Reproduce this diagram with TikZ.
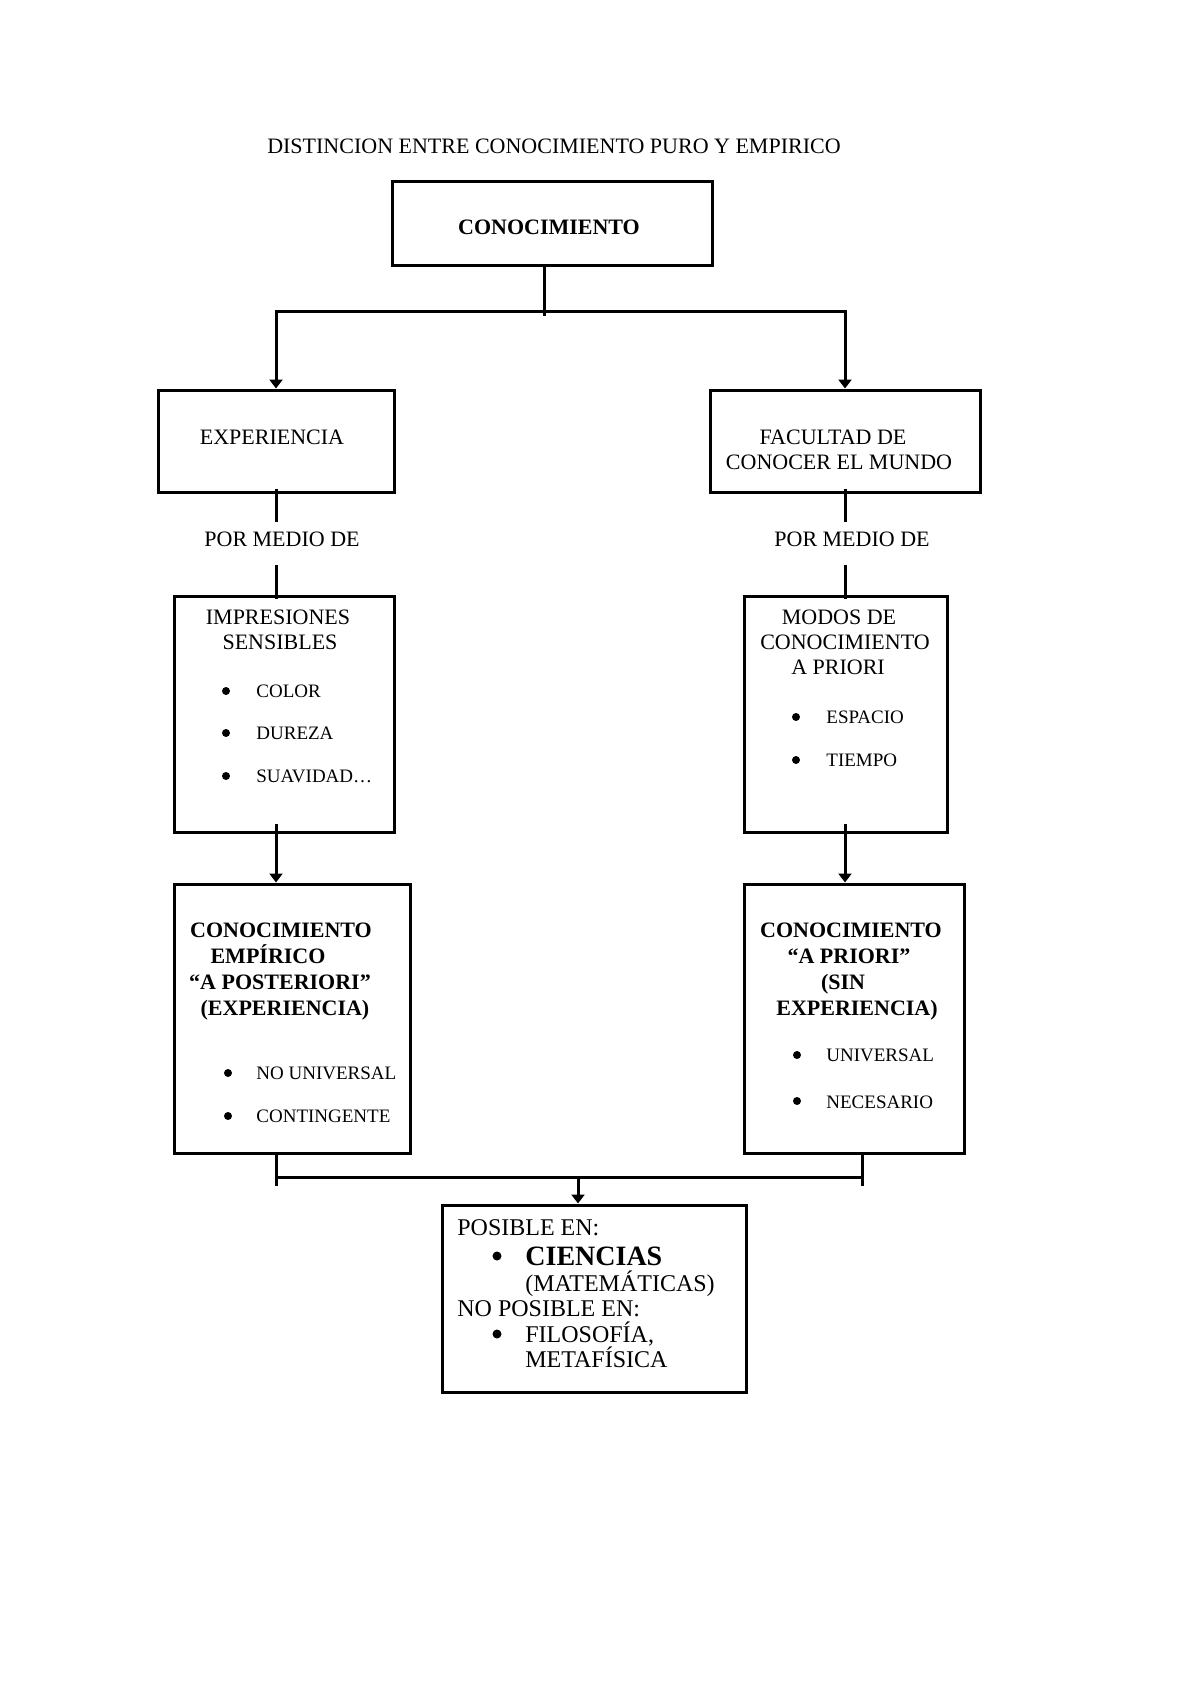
\documentclass[tikz,border=0pt]{standalone}
\usepackage{fontspec}
\setmainfont{Liberation Serif}
\usetikzlibrary{arrows.meta}

\begin{document}
\begin{tikzpicture}[x=0.5pt,y=0.5pt,yscale=-1,xscale=1,
  box/.style={draw,line width=1.5pt,inner sep=0pt},
  link/.style={line width=1.5pt},
  arrow/.style={line width=1.5pt,-{Triangle[width=6.5pt,length=4.5pt]}},
  txt/.style={font=\fontsize{11}{13}\selectfont,inner sep=0pt,anchor=base},
  bold/.style={font=\fontsize{11}{13}\selectfont\bfseries,inner sep=0pt,anchor=base},
  item/.style={font=\fontsize{9.5}{11}\selectfont,inner sep=0pt,anchor=base west},
  dot/.style={circle,fill,inner sep=0pt,minimum size=4pt},
  big/.style={font=\fontsize{12}{14}\selectfont,inner sep=0pt,anchor=base west}]
\useasboundingbox (0,0) rectangle (1200,1698);

% Title
\node [txt] (title) at (554,153) {DISTINCION ENTRE CONOCIMIENTO PURO Y EMPIRICO};

% Boxes
\node [box,minimum width=160pt,minimum height=42pt] (conoc) at (552,223) {};
\node [box,minimum width=118pt,minimum height=51pt] (exp) at (276,441) {};
\node [box,minimum width=135pt,minimum height=51pt] (fac) at (845,441) {};
\node [box,minimum width=110pt,minimum height=118pt] (imp) at (284,714) {};
\node [box,minimum width=101.5pt,minimum height=118pt] (modos) at (845.5,714) {};
\node [box,minimum width=118pt,minimum height=134.5pt] (emp) at (292,1018.5) {};
\node [box,minimum width=110pt,minimum height=134.5pt] (pri) at (854,1018.5) {};
\node [box,minimum width=152pt,minimum height=93.5pt] (pos) at (594,1298.5) {};

% Text Node
\node [bold] (t-conoc) at (549,234) {CONOCIMIENTO};
\node [txt] (t-exp) at (272,444) {EXPERIENCIA};
\node [txt] (t-fac1) at (833,444) {FACULTAD DE};
\node [txt] (t-fac2) at (839,469) {CONOCER EL MUNDO};
\node [txt] (pm1) at (282,546) {POR MEDIO DE};
\node [txt] (pm2) at (852,546) {POR MEDIO DE};

% Text Node
\node [txt] (t-imp1) at (278,624) {IMPRESIONES};
\node [txt] (t-imp2) at (280,649) {SENSIBLES};
\node [dot] (d1) at (226,691) {};
\node [item] (i-color) at (256,697) {COLOR};
\node [dot] (d2) at (226,733) {};
\node [item] (i-dureza) at (256,739) {DUREZA};
\node [dot] (d3) at (226,776) {};
\node [item] (i-suave) at (256,782) {SUAVIDAD…};

% Text Node
\node [txt] (t-mod1) at (839,624) {MODOS DE};
\node [txt] (t-mod2) at (845,649) {CONOCIMIENTO};
\node [txt] (t-mod3) at (838,674) {A PRIORI};
\node [dot] (d4) at (796,717) {};
\node [item] (i-espacio) at (826,723) {ESPACIO};
\node [dot] (d5) at (796,760) {};
\node [item] (i-tiempo) at (826,766) {TIEMPO};

% Text Node
\node [bold] (t-emp1) at (281,937) {CONOCIMIENTO};
\node [bold] (t-emp2) at (268,963) {EMPÍRICO};
\node [bold] (t-emp3) at (280,989) {“A POSTERIORI”};
\node [bold] (t-emp4) at (285,1015) {(EXPERIENCIA)};
\node [dot] (d6) at (228,1073) {};
\node [item] (i-nouni) at (256,1079) {NO UNIVERSAL};
\node [dot] (d7) at (228,1116) {};
\node [item] (i-cont) at (256,1122) {CONTINGENTE};

% Text Node
\node [bold] (t-pri1) at (851,937) {CONOCIMIENTO};
\node [bold] (t-pri2) at (849,963) {“A PRIORI”};
\node [bold] (t-pri3) at (843,989) {(SIN};
\node [bold] (t-pri4) at (857,1015) {EXPERIENCIA)};
\node [dot] (d8) at (797,1055) {};
\node [item] (i-uni) at (826,1061) {UNIVERSAL};
\node [dot] (d9) at (797,1101) {};
\node [item] (i-nec) at (826,1108) {NECESARIO};

% Text Node
\node [big] (t-pos1) at (457,1235) {POSIBLE EN:};
\node [dot,minimum size=4.5pt] (d10) at (497,1256) {};
\node [big,font=\fontsize{14}{16}\selectfont\bfseries] (t-cien) at (525,1265) {CIENCIAS};
\node [big] (t-mat) at (525,1291) {(MATEMÁTICAS)};
\node [big] (t-pos2) at (457,1316) {NO POSIBLE EN:};
\node [dot,minimum size=4.5pt] (d11) at (497,1334) {};
\node [big] (t-fil) at (525,1342) {FILOSOFÍA,};
\node [big] (t-met) at (525,1367) {METAFÍSICA};

% Connectors
\coordinate (c1) at (544,265);
\coordinate (split) at (544,311);
\draw [link] (c1) -- ++(0,51);
\draw [arrow] (split) -| (exp.north);
\draw [arrow] (split) -| (fac.north);

\draw [link] ([yshift=-2.5pt]exp.south) -- (exp.south |- 0,522);
\draw [link] (exp.south |- 0,565) -- ([yshift=2pt]exp.south |- imp.north);
\draw [link] ([yshift=-2.5pt]fac.south) -- (fac.south |- 0,522);
\draw [link] (fac.south |- 0,565) -- ([yshift=2pt]fac.south |- modos.north);

\draw [arrow] ([yshift=-5pt]exp.south |- imp.south) -- (exp.south |- emp.north);
\draw [arrow] ([yshift=-5pt]fac.south |- modos.south) -- (fac.south |- pri.north);

\coordinate (jl) at (276,1177);
\coordinate (jr) at (862,1177);
\coordinate (join) at (578,1177);
\draw [link] ([yshift=-1.5pt]jl |- emp.south) -- ++(0,34);
\draw [link] ([yshift=-1.5pt]jr |- pri.south) -- ++(0,34);
\draw [link] (jl) -- (jr);
\draw [arrow] (join) -- (join |- pos.north);

\end{tikzpicture}
\end{document}
